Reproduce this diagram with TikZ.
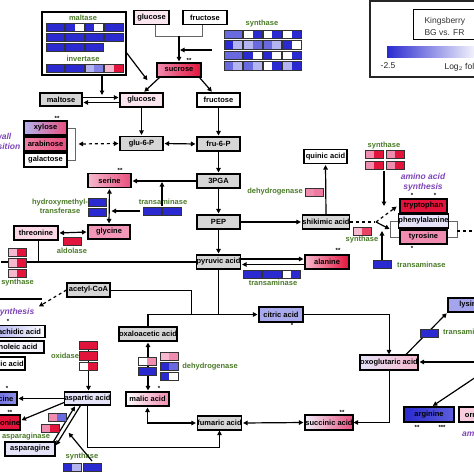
\documentclass[tikz,border=0pt]{standalone}
\usepackage{fontspec}
\setmainfont{Liberation Sans}
\usetikzlibrary{arrows.meta,calc}

\definecolor{hb}{HTML}{2A2AD0}
\definecolor{hm}{HTML}{6A6AE0}
\definecolor{hl}{HTML}{B4B4F0}
\definecolor{hp}{HTML}{F08CB0}
\definecolor{hq}{HTML}{F6B8CE}
\definecolor{hr}{HTML}{E2143C}
\definecolor{pk0}{HTML}{FBE6EF}
\definecolor{lv0}{HTML}{E6E4F8}
\definecolor{rose}{HTML}{E8507E}
\definecolor{boxgray}{HTML}{D6D6D6}
\definecolor{enzgreen}{HTML}{4A7A28}
\definecolor{grppurple}{HTML}{7D45B8}

% one heat map cell, two halves
\newcommand{\hcell}[4]{%
  \fill[#3] (#1,#2) rectangle ++(9.25,8.5);
  \fill[#4] ({#1+9.25},#2) rectangle ++(9.25,8.5);
  \draw[line width=0.6pt, black!80] (#1,#2) rectangle ++(18.5,8.5);}

\begin{document}
\begin{tikzpicture}[x=1pt,y=-1pt,
  >={Triangle[length=4.5pt,width=4.5pt]},
  met/.style={draw=black, line width=1.1pt, inner sep=0pt, minimum height=14pt,
    font=\bfseries\fontsize{7.5}{8}\selectfont},
  gbox/.style={met, fill=boxgray},
  enz/.style={text=enzgreen, inner sep=0pt, font=\bfseries\fontsize{7.5}{9}\selectfont},
  grp/.style={text=grppurple, inner sep=0pt, align=center,
    font=\bfseries\itshape\fontsize{8.5}{10}\selectfont},
  star/.style={inner sep=0pt, font=\bfseries\fontsize{6}{6}\selectfont},
  flow/.style={line width=1.2pt, shorten >=1pt},
  thinflow/.style={line width=0.6pt},
  brk/.style={line width=0.5pt, draw=black!60}]
\useasboundingbox (0,0) rectangle (474,474);
\clip (0,0) rectangle (474,474);

% legend
\draw[line width=1.5pt, black!85] (370,1) rectangle (480,77);
\node[draw, line width=0.8pt, minimum width=64pt, minimum height=30pt] (key) at (445,24) {};
\node[anchor=west, align=left, text=black!80, font=\fontsize{8.5}{12}\selectfont] (keytxt) at (421,26) {Kingsberry\\BG vs. FR};
\shade[left color=hb, right color=white] (387,46) rectangle (480,57);
\node[text=black!85, font=\fontsize{8.5}{10}\selectfont] (kmin) at (388,66) {-2.5};
\node[anchor=west, text=black!85, font=\fontsize{8.5}{10}\selectfont] (klab) at (441,67) {Log$_2$ fold change};

% sugars
\node[draw, line width=1.5pt, minimum width=84pt, minimum height=63pt, inner sep=0pt] (maltbox) at (84,43.5) {};
\node[enz] (maltase) at (83,17.5) {maltase};
\node[enz] (invert) at (83,59) {invertase};
\node[met, fill=pk0, minimum width=35pt] (glucT) at (151.5,17.5) {glucose};
\node[met, fill=white, minimum width=44pt] (fructT) at (205,17.5) {fructose};
\node[met, left color=hp, right color=hr, minimum width=44pt] (sucr) at (179,70) {sucrose};
\node[enz] (synT) at (262,24) {synthase};
\node[gbox, minimum width=42pt, minimum height=13pt] (malt) at (61,99.5) {maltose};
\node[met, fill=pk0, minimum width=43pt] (gluc) at (141.5,100) {glucose};
\node[met, fill=white, minimum width=43pt] (fruc) at (218.5,100) {fructose};
\node[gbox, minimum width=43pt] (g6p) at (141.5,143.5) {glu-6-P};
\node[gbox, minimum width=43pt] (f6p) at (218.5,144) {fru-6-P};
\node[met, left color=hl, right color=rose, minimum width=43pt] (xyl) at (45.5,128) {xylose};
\node[met, left color=hp!80!rose, right color=rose, minimum width=43pt] (ara) at (45.5,144) {arabinose};
\node[met, fill=white, minimum width=43pt] (gal) at (45.5,160) {galactose};
\node[grp] (cw) at (-5,142) {cell wall\\composition};

% glycolysis
\node[gbox, minimum width=43pt] (pga) at (218.5,181) {3PGA};
\node[gbox, minimum width=43pt] (pep) at (218.5,222) {PEP};
\node[gbox, minimum width=44pt] (pyr) at (218.5,262) {pyruvic acid};
\node[met, left color=hq, right color=rose, minimum width=43pt] (ser) at (109.5,180.5) {serine};
\node[met, fill=hp!90!white, minimum width=42pt] (gly) at (109,232) {glycine};
\node[met, fill=pk0!70!hq, minimum width=44pt] (thr) at (36,233) {threonine};
\node[gbox, minimum width=43pt] (acoa) at (88.5,290) {acetyl-CoA};
\node[enz] (taG) at (163,202) {transaminase};
\node[enz, align=center] (shmt) at (60,206.5) {hydroxymethyl-\\transferase};
\node[enz] (ald) at (72,251) {aldolase};
\node[enz, anchor=east] (thrs) at (34,283) {thr synthase};

% shikimate and amino acids
\node[met, fill=white, minimum width=43pt] (quin) at (325.5,156.5) {quinic acid};
\node[gbox, minimum width=44pt] (shik) at (326,222) {shikimic acid};
\node[met, left color=hq, right color=hr, minimum width=44pt] (ala) at (327,262) {alanine};
\node[met, fill=hr, minimum width=47pt] (trp) at (423.5,206) {tryptophan};
\node[met, fill=lv0, minimum width=47pt] (phe) at (423.5,221) {phenylalanine};
\node[met, fill=hp, minimum width=47pt] (tyr) at (423.5,237) {tyrosine};
\node[grp] (aas) at (423,182.5) {amino acid\\synthesis};
\node[enz] (dhS) at (275,192) {dehydrogenase};
\node[enz] (synQ) at (384,146) {synthase};
\node[enz] (synS) at (362,240) {synthase};
\node[enz, anchor=west] (taA) at (397,265) {transaminase};
\node[enz] (taP) at (273,283) {transaminase};

% fatty acids
\node[grp, anchor=east] (fas) at (34.5,312) {fatty acid synthesis};
\node[met, left color=hl!80!hm, right color=white, minimum width=58pt, minimum height=12pt] (arach) at (16,331.5) {arachidic acid};
\node[met, fill=lv0!40!white, minimum width=56pt, minimum height=12pt] (linol) at (16,347) {linoleic acid};
\node[met, fill=white, minimum width=50pt, minimum height=13pt] (linolen) at (0,363.5) {linolenic acid};

% TCA cycle
\node[gbox, minimum width=58pt] (oaa) at (148,334) {oxaloacetic acid};
\node[met, fill=hl!85!hm, minimum width=44pt, minimum height=15pt] (cit) at (281,314.5) {citric acid};
\node[met, left color=lv0, right color=hq, minimum width=58pt, minimum height=15pt] (oxo) at (389,362.5) {oxoglutaric acid};
\node[met, left color=white, right color=hp, minimum width=43pt] (mal) at (147.5,399) {malic acid};
\node[gbox, minimum width=43pt] (fum) at (219.5,423) {fumaric acid};
\node[met, left color=lv0!60!white, right color=rose, minimum width=48pt, minimum height=15pt] (suc) at (329,422.5) {succinic acid};
\node[enz] (oxdt) at (65,356) {oxidase};
\node[enz] (mdh) at (210,367) {dehydrogenase};

% aspartate family
\node[met, fill=lv0, minimum width=45pt, minimum height=13pt] (asp) at (87.5,398.5) {aspartic acid};
\node[met, left color=hb!85!white, right color=hm!75!white, minimum width=44pt, minimum height=13pt] (ile) at (-5,398.5) {isoleucine};
\node[met, fill=hr, minimum width=40pt, minimum height=15pt] (meth) at (0,422.5) {methionine};
\node[met, fill=lv0, minimum width=50pt] (asn) at (30,449) {asparagine};
\node[enz] (asnase) at (26,437) {asparaginase};
\node[enz] (asnsyn) at (82,457) {synthase};
\node[met, fill=hl!80!hm, minimum width=44pt] (lys) at (470,305) {lysine};
\node[met, left color=hb, right color=hm!80!hb, minimum width=50pt, minimum height=15pt] (arg) at (429,414.5) {arginine};
\node[met, fill=hq!70!white, minimum width=44pt, minimum height=15pt] (orn) at (481,414.5) {ornithine};
\node[enz, anchor=west] (taL) at (443,332) {transaminase};
\node[grp, anchor=west] (aas2) at (462,433) {amino acid};

% significance marks
\node[star] (s1) at (189,60) {**};
\node[star] (s2) at (57,118) {**};
\node[star] (s3) at (120,170.5) {**};
\node[star] (s4) at (338,250) {**};
\node[star] (s5) at (412,195) {*};
\node[star] (s6) at (435,195) {*};
\node[star] (s7) at (412,248) {*};
\node[star] (s8) at (292,325) {*};
\node[star] (s9) at (159,388) {*};
\node[star] (s10) at (342,412) {**};
\node[star] (s11) at (417,427) {**};
\node[star] (s12) at (442,427) {***};
\node[star] (s13) at (8,321) {*};
\node[star] (s14) at (7,388) {*};
\node[star] (s15) at (10,412) {**};

% named free ends
\coordinate (sugj) at (179,35.5);
\coordinate (synA) at (212,50);
\coordinate (invtip) at (148,81);
\coordinate (maltin) at (102,96);
\coordinate (tsA) at (162,206);
\coordinate (tsB) at (140,211);
\coordinate (lend) at (0,262);
\coordinate (arom) at (376,222);
\coordinate (synB) at (384,171);
\coordinate (synBe) at (384,207);
\coordinate (taAs) at (382,260);
\coordinate (taAe) at (382,230);
\coordinate (aromR) at (476,231);
\coordinate (citj) at (191,314);
\coordinate (fa) at (38,307);
\coordinate (faL) at (0,299);
\coordinate (faR) at (43,299);
\coordinate (oxd) at (88.5,342);
\coordinate (asnS) at (92,461);
\coordinate (asnSe) at (68,432);
\coordinate (oxoR) at (476,362);
\coordinate (argR) at (476,377);

% sugar connectors
\draw[brk] ([xshift=3.5pt]glucT.south) -- ++(0,11) -| ([xshift=-3pt]fructT.south);
\draw[flow,->] (sugj) -- (sucr.north);
\draw[flow,->] (synA) -- (sugj |- synA);
\draw[flow,->] ([yshift=-9.5pt]maltbox.east) -- (invtip);
\draw[flow,->] ([xshift=3pt]sucr.south west) -- ([xshift=2pt]gluc.north);
\draw[flow,->] ([xshift=-2pt]sucr.south east) -- ([xshift=-6pt]fruc.north);
\draw[flow,->] (maltbox.south -| maltin) -- (maltin);
\draw[flow,->] ([yshift=2pt]malt.east) -- ([yshift=2pt]malt.east -| gluc.west);
\draw[flow,->] ([yshift=-2.5pt]gluc.west) -- ([yshift=-2.5pt]gluc.west -| malt.east);
\draw[flow,->] (gluc.south) -- (g6p.north);
\draw[flow,->] (fruc.south) -- (f6p.north);
\draw[flow,<->, shorten <=1pt] (g6p.east) -- (f6p.west);
\draw[brk] (xyl.east) -- ++(8,0) |- (gal.east);
\draw[flow,dashed,<->, shorten <=1pt] ([xshift=10pt]ara.east) -- (g6p.west);

% glycolysis connectors
\draw[flow,->] (f6p.south) -- (pga.north);
\draw[flow,->] (pga.south) -- (pep.north);
\draw[flow,->] (pep.south) -- (pyr.north);
\draw[flow,->] (pga.west) -- (pga.west -| ser.east);
\draw[flow,->] (tsA) -- (tsA |- pga.west);
\draw[flow,->, shorten >=2pt] (tsB) -- (tsB -| ser.south);
\draw[flow,<->, shorten <=1pt] (ser.south) -- (gly.north);
\draw[flow,<->, shorten <=1pt] (thr.east) -- (gly.west);
\draw[thinflow] ([xshift=2pt]thr.south) -- ([xshift=2pt]thr.south |- pyr.west);
\draw[flow] (pyr.west) -- (lend);
\draw[flow,->] (pep.east) -- (shik.west);
\draw[flow,->] (shik.north) -- (quin.south);
\draw[flow,->] ([yshift=3pt]pyr.east) -- ([yshift=3pt]pyr.east -| ala.west);
\draw[flow,->] ([yshift=-2.5pt]ala.west) -- ([yshift=-2.5pt]ala.west -| pyr.east);

% aromatic branch
\draw[flow,dashed] (shik.east) -- (arom);
\draw[flow,dashed,->] (arom) -- ([xshift=-2pt]trp.west);
\draw[flow,->] (arom) -- ([xshift=-9pt]tyr.north west);
\draw[flow,->] (synB) -- (synBe);
\draw[flow,->] (taAs) -- (taAe);
\draw[brk] (phe.west) -- ++(-8,0) |- (tyr.west);
\draw[brk] (phe.east) -- ++(8,0) |- (tyr.east);
\draw[flow,dashed] ($(phe.east)!0.5!(tyr.east)+(9,2)$) -- (aromR);

% acetyl-CoA and TCA cycle
\draw[thinflow] (acoa.east) -| (citj);
\draw[thinflow] (pyr.south) -- (pyr.south |- cit.west);
\draw[flow,->] (oaa.north) |- (cit.west);
\draw[flow,dashed,->] (acoa.west) -- (fa);
\draw[flow] (faL) -- (faR);
\draw[line width=0.9pt,->] (cit.east) -| (oxo.north);
\draw[line width=0.9pt,->] (oxo.south) |- (suc.east);
\draw[flow,<->, shorten <=1pt] (suc.west) -- (fum.east);
\draw[flow,<->, shorten <=1pt] (fum.west) -| (mal.south);
\draw[flow,<->, shorten <=1pt] (oaa.south) -- (oaa.south |- mal.north);
\draw[flow,->] (oxd) -- (oxd |- asp.north);
\draw[flow,->] ([xshift=17pt]oxo.north) -- (lys.south west);
\draw[flow,->] (oxoR) -- (oxoR -| oxo.east);
\draw[flow,->] (argR) -- ([xshift=3pt]arg.north);

% aspartate connectors
\draw[flow,->] (asp.west) -- (ile.east);
\draw[flow,->] ([yshift=-4pt]asp.west) -- ([yshift=2pt]meth.east);
\draw[flow,->] ([xshift=-2pt]asn.north east) -- ([xshift=-12pt]asp.south);
\draw[flow,->] ([xshift=-7pt]asp.south) -- ([yshift=3pt]asn.east);
\draw[flow,->] (asnS) -- (asnSe);
\draw[line width=1pt,->] (asp.south) -- ++(0,42) -| (fum.south);

% heat maps: maltase, invertase
\hcell{46}{23}{hb}{hb} \hcell{65.5}{23}{hb}{white} \hcell{85}{23}{hb}{white} \hcell{104.5}{23}{hb}{hb}
\hcell{46}{33}{hb}{hb} \hcell{65.5}{33}{hb}{hb} \hcell{85}{33}{hb}{hb} \hcell{104.5}{33}{hb}{hb}
\hcell{46}{43}{hb}{hb} \hcell{65.5}{43}{hb}{hb} \hcell{85}{43}{hb}{hb}
\hcell{46}{64}{hb}{hb} \hcell{65.5}{64}{hb}{hb} \hcell{85}{64}{hl}{hm!70!hl} \hcell{104.5}{64}{hq}{hr}
% sucrose synthase
\hcell{224}{30}{hm}{hm} \hcell{243.5}{30}{white}{hb} \hcell{263}{30}{white}{hb} \hcell{282.5}{30}{white}{hb}
\hcell{224}{40.5}{hb}{hl} \hcell{243.5}{40.5}{hl}{hm} \hcell{263}{40.5}{hm}{hl} \hcell{282.5}{40.5}{hb}{white}
\hcell{224}{51}{hm}{hm} \hcell{243.5}{51}{hb}{white} \hcell{263}{51}{hb}{white} \hcell{282.5}{51}{white}{hb}
\hcell{224}{61.5}{hm}{hl} \hcell{243.5}{61.5}{hm}{hl} \hcell{263}{61.5}{white}{hb} \hcell{282.5}{61.5}{hl}{hb}
% shikimate pathway
\hcell{365}{150}{hp}{hr} \hcell{386}{150}{hp}{hr}
\hcell{365}{161}{hp}{hr} \hcell{386}{161}{hp}{hr}
\hcell{305}{188}{hp}{hp!70!rose}
\hcell{353}{227}{hq}{hr!80!white}
\hcell{373}{260}{hb}{hb}
% transaminases, serine, threonine
\hcell{243}{270}{hb}{hb} \hcell{262.5}{270}{hb}{hb} \hcell{282}{270}{white}{hb}
\hcell{143}{207}{hb}{hb} \hcell{162.5}{207}{hb}{hb}
\hcell{88}{198}{hb}{hb}
\hcell{88}{208}{hb}{hb}
\hcell{63}{237}{hr}{hr}
\hcell{8}{248}{hq}{hr}
\hcell{8}{258.5}{hq}{hr}
\hcell{8}{269}{hq}{hr}
% TCA and aspartate
\hcell{79}{341}{hr}{hr}
\hcell{79}{351.5}{hr}{hr}
\hcell{79}{362}{white}{hr}
\hcell{138}{357}{white}{hp}
\hcell{138}{367}{hb}{hb}
\hcell{160}{352}{hq}{hp}
\hcell{160}{362}{hb}{hm}
\hcell{160}{372}{hb}{white}
\hcell{48}{413}{hp}{hm}
\hcell{41}{424}{hp}{hr}
\hcell{63}{463}{hb}{hl} \hcell{83}{463}{hb}{hb}
\hcell{420}{329}{hb}{hb}
\end{tikzpicture}
\end{document}
